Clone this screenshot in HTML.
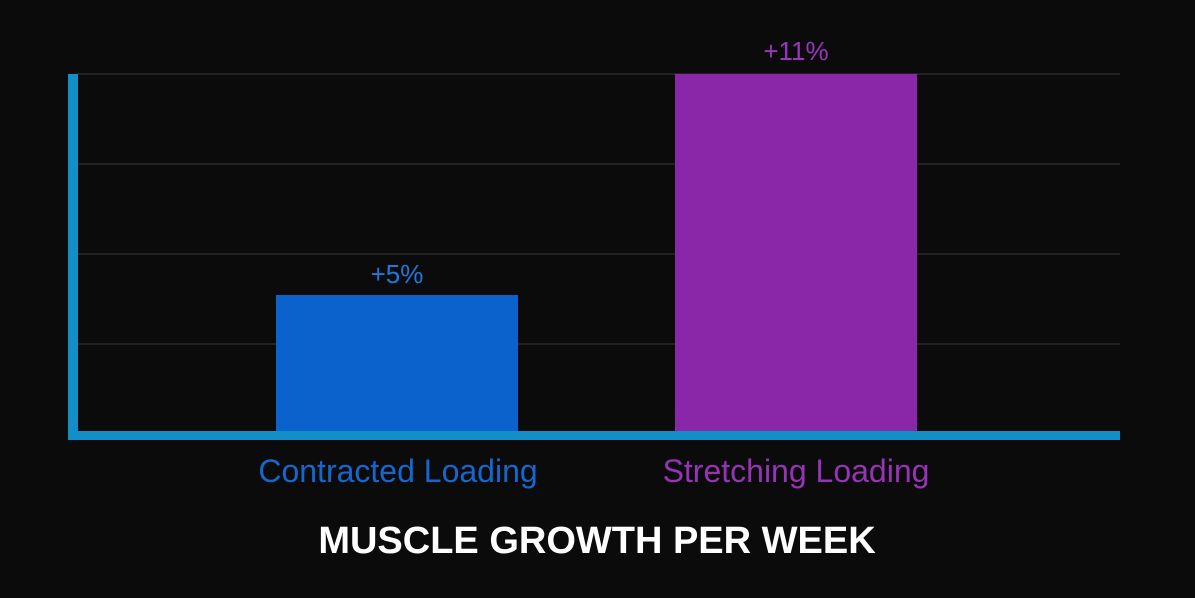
<!DOCTYPE html>
<html><head><style>
html,body{margin:0;padding:0;background:#0b0b0b;}
</style></head><body>
<svg width="1195" height="593" xmlns="http://www.w3.org/2000/svg">
<rect width="1195" height="593" fill="#0b0b0b"/>
<g stroke="#2a2a2a" stroke-width="1.5">
<line x1="78" y1="74" x2="1120" y2="74"/>
<line x1="78" y1="164" x2="1120" y2="164"/>
<line x1="78" y1="254" x2="1120" y2="254"/>
<line x1="78" y1="344" x2="1120" y2="344"/>
</g>
<rect x="276" y="295" width="242" height="137" fill="#0b62cc"/>
<rect x="675" y="74" width="242" height="358" fill="#8a27a8"/>
<rect x="68" y="74" width="10" height="366" fill="#138fc7"/>
<rect x="68" y="431" width="1052" height="9" fill="#138fc7"/>
<g font-family="Liberation Sans, sans-serif" text-anchor="middle">
<text x="397" y="283" font-size="26" fill="#1f78e0">+5%</text>
<text x="796" y="60" font-size="26" fill="#9b35bd">+11%</text>
<text x="398" y="482" font-size="32" fill="#1467cf">Contracted Loading</text>
<text x="796" y="482" font-size="32" fill="#9633b6">Stretching Loading</text>
<text x="597" y="553" font-size="38" font-weight="bold" fill="#ffffff">MUSCLE GROWTH PER WEEK</text>
</g>
</svg>
</body></html>
